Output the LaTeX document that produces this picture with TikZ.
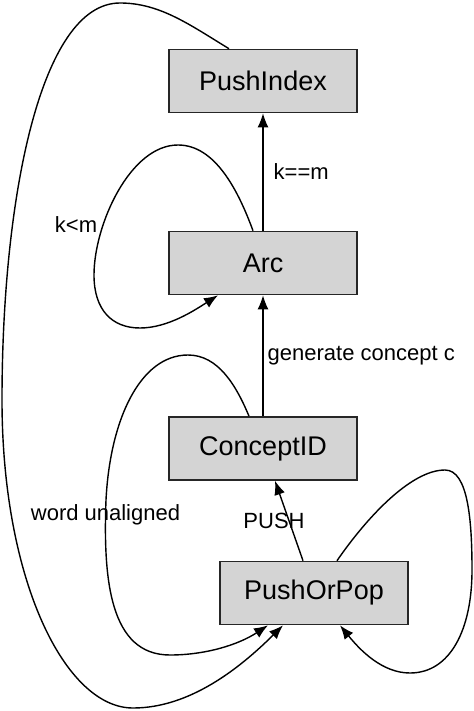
\documentclass[tikz,border=0pt]{standalone}
\usepackage{fontspec}
\setmainfont{Liberation Sans}
\usepackage{tikz}
\usepackage{xcolor}
\usetikzlibrary{arrows.meta,calc}
\definecolor{boxgray}{RGB}{212,212,212}

\begin{document}
\begin{tikzpicture}[x=0.5pt,y=-0.5pt,>={Latex[length=7pt,width=5.5pt]},
    state/.style={draw=black!85,fill=boxgray,line width=0.8pt,minimum width=94pt,minimum height=31.5pt,font=\fontsize{13.5}{16}\selectfont},
    lbl/.style={font=\fontsize{11}{13}\selectfont,inner sep=1pt},
    edge/.style={->,line width=0.7pt}]
      \useasboundingbox (0,0) rectangle (474,711);
      \node [state] (pushindex) at (263,81) {PushIndex};
      \node [state] (arc) at (263,263) {Arc};
      \node [state] (conceptid) at (263,448.5) {ConceptID};
      \node [state] (pushorpop) at (314,593) {PushOrPop};
      \draw [edge] (arc) -- node [lbl,right=4pt] (lblkeqm) {k==m} (pushindex);
      \draw [edge] (conceptid) -- node [lbl,right=1pt] (lblgen) {generate concept c} (arc);
      \draw [edge] ($(pushorpop.north)+(-11,0)$) -- node [lbl,xshift=-7.5pt] (lblpush) {PUSH} ($(conceptid.south)+(12,0)$);
      % self loop on Arc
      \draw [edge] ($(arc.north)+(-10,0)$) .. controls (238,190) and (215,145) .. (178,145) .. controls (130,145) and (94,225) .. (94,275) .. controls (94,310) and (112,328) .. (140,328) .. controls (168,328) and (195,310) .. ($(arc.south)+(-45,0)$);
      \node [lbl] (lblkltm) at (76,225) {k<m};
      % ConceptID back to PushOrPop
      \draw [edge] ($(conceptid.north)+(-14,0)$) .. controls (236,385) and (218,355) .. (188,355) .. controls (140,355) and (110,420) .. (106,500) .. controls (103,580) and (110,655) .. (170,655) .. controls (205,655) and (238,645) .. ($(pushorpop.south)+(-46,0)$);
      \node [lbl] (lblword) at (105.5,515) {word unaligned};
      % PushIndex back to PushOrPop
      \draw [edge] ($(pushindex.north)+(-34,0)$) .. controls (190,25) and (160,3) .. (120,3) .. controls (40,3) and (2,200) .. (2,400) .. controls (2,580) and (65,708) .. (133,708) .. controls (190,708) and (240,668) .. ($(pushorpop.south)+(-31,0)$);
      % self loop on PushOrPop
      \draw [edge] ($(pushorpop.north)+(23,0)$) .. controls (365,520) and (410,470) .. (445,470) .. controls (468,470) and (472,520) .. (472,570) .. controls (472,630) and (450,673) .. (410,673) .. controls (382,673) and (360,650) .. ($(pushorpop.south)+(26,0)$);
\end{tikzpicture}
\end{document}
